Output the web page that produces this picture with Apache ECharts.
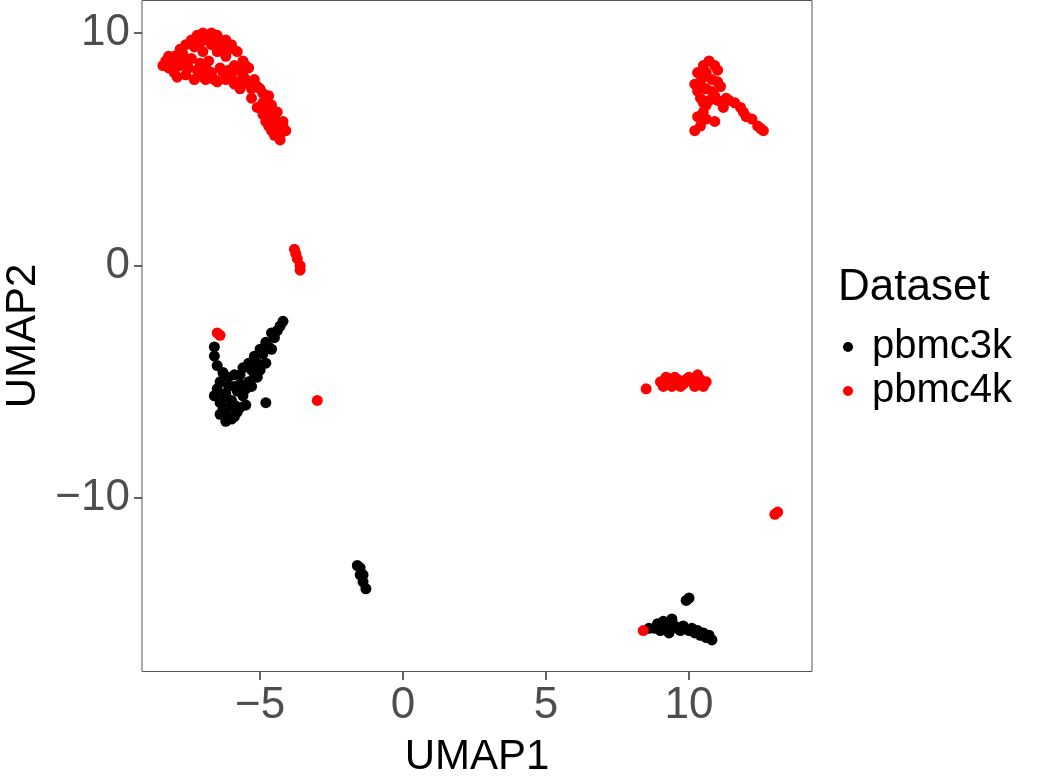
<!DOCTYPE html>
<html><head><meta charset="utf-8">
<script src="https://cdn.jsdelivr.net/npm/echarts@6/dist/echarts.min.js"></script>
<style>html,body{margin:0;background:#fff}#c{width:1042px;height:776px}</style>
</head><body><div id="c"></div>
<script>
var xTicks = [-5, 0, 5, 10];
var yTicks = [-10, 0, 10];
var pbmc4k = [
 [-8.3,8.8],[-8.2,8.5],[-8.0,9.0],[-8.0,8.3],[-7.8,9.3],[-7.8,8.6],[-7.6,9.5],[-7.6,8.2],[-7.4,9.7],[-7.4,8.9],[-7.2,9.9],[-7.2,8.4],[-7.0,10.0],[-7.0,9.2],[-7.0,8.1],[-6.8,9.9],[-6.8,8.8],[-6.6,9.8],[-6.6,8.0],[-6.4,9.6],[-6.4,8.5],[-6.2,9.7],[-6.2,9.0],[-6.2,8.0],[-6.0,9.5],[-6.0,8.2],[-5.8,9.2],[-5.8,7.9],[-5.6,8.8],[-5.6,8.2],[-5.4,8.5],[-5.4,7.8],[-5.2,8.0],[-5.0,7.6],[-4.9,7.0],[-4.7,7.3],[-4.6,6.5],[-4.8,6.2],[-4.4,6.6],[-4.4,6.0],[-4.2,6.2],[-4.3,5.6],[-4.1,5.8],[-4.6,5.8],[-6.5,9.2],[-7.6,8.8],[-6.9,8.5],[-5.7,7.6],[-5.3,7.2],[-5.1,6.8],
 [-8.1,8.7],[-7.9,8.9],[-7.3,9.4],[-6.7,9.5],[-6.3,8.3],[-5.9,8.6],[-5.5,8.0],[-4.5,6.3],[-4.3,5.4],
 [-8.4,8.6],[-8.2,9.0],[-7.9,8.1],[-7.7,9.1],[-7.5,8.5],[-7.3,8.0],[-7.1,9.6],[-7.1,8.7],[-6.9,9.7],[-6.9,8.0],[-6.7,10.0],[-6.7,8.3],[-6.5,9.9],[-6.5,7.9],[-6.3,9.3],[-6.1,9.3],[-6.1,8.4],[-5.9,7.8],[-5.7,8.4],[-5.5,8.6],[-5.3,7.6],[-5.1,7.7],[-4.9,7.4],[-4.8,6.8],[-4.6,6.9],[-4.5,5.6],[-4.2,6.0],[-4.7,6.0],[-4.9,6.5],
 [10.2,7.8],[10.3,8.3],[10.4,7.2],[10.5,8.6],[10.6,7.6],[10.7,8.8],[10.8,8.0],[10.9,7.3],[10.5,6.6],[10.4,6.0],[10.2,5.8],[11.0,8.4],[11.1,7.7],[10.6,6.9],[11.3,7.2],[11.6,7.0],[11.9,6.6],[12.2,6.3],[12.5,5.9],[11.2,6.8],[10.9,6.2],[10.4,7.9],[10.7,7.1],
 [10.3,7.5],[10.5,8.1],[10.6,8.3],[10.8,7.5],[10.9,8.6],[11.0,7.1],[10.6,6.3],[10.3,6.4],[11.4,7.1],[11.8,6.8],[12.0,6.4],[12.4,6.0],[12.6,5.8],[11.0,7.9],[10.5,7.0],
 [-3.8,0.7],[-3.7,0.3],[-3.6,0.0],[-3.6,-0.2],[-3.75,0.5],
 [-6.5,-2.9],[-6.4,-3.0],[-3.0,-5.8],
 [8.5,-5.3],[9.0,-5.0],[9.2,-4.8],[9.4,-5.2],[9.6,-4.9],[9.8,-5.1],[10.0,-4.8],[10.2,-5.2],[10.4,-4.9],[10.6,-5.0],[9.3,-5.0],[10.1,-5.0],[9.1,-5.2],[9.5,-4.8],[9.7,-5.2],[9.9,-4.9],[10.3,-4.7],[10.5,-5.2],
 [13.0,-10.7],[13.1,-10.6],
 [8.4,-15.7]
];
var pbmc3k = [
 [-6.6,-5.6],[-6.4,-5.0],[-6.3,-6.2],[-6.2,-5.5],[-6.1,-4.8],[-6.0,-6.6],[-6.0,-5.8],[-5.9,-5.2],[-5.8,-6.3],[-5.7,-4.7],[-5.6,-5.6],[-5.5,-6.0],[-5.4,-5.0],[-5.3,-4.5],[-5.1,-4.2],[-4.9,-3.8],[-4.7,-3.5],[-4.5,-3.1],[-4.3,-2.6],[-4.2,-2.4],[-5.2,-4.8],[-4.8,-4.2],[-6.6,-3.5],[-6.6,-3.9],[-6.5,-4.3],[-4.8,-5.9],[-6.2,-6.4],[-6.4,-5.9],[-5.8,-5.4],[-5.0,-4.5],
 [-6.5,-5.3],[-6.3,-4.6],[-6.3,-5.7],[-6.1,-6.1],[-6.1,-5.2],[-5.9,-4.7],[-5.9,-6.0],[-5.7,-5.1],[-5.7,-6.1],[-5.6,-4.4],[-5.5,-5.3],[-5.4,-4.2],[-5.2,-3.9],[-5.0,-3.6],[-4.8,-3.3],[-4.6,-2.9],[-4.4,-2.8],[-4.6,-3.6],[-5.1,-4.8],[-5.3,-5.2],[-6.2,-6.7],[-5.9,-6.5],[-6.4,-6.4],
 [-1.6,-12.9],[-1.5,-13.3],[-1.4,-13.6],[-1.3,-13.9],[-1.5,-13.0],[-1.4,-13.3],
 [8.6,-15.6],[8.9,-15.4],[9.2,-15.5],[9.4,-15.3],[9.6,-15.6],[9.8,-15.5],[10.0,-15.7],[10.2,-15.8],[10.4,-15.9],[10.6,-16.0],[10.8,-16.1],[9.0,-15.7],[9.3,-15.8],[10.0,-14.3],[9.9,-14.4],
 [8.8,-15.6],[9.1,-15.3],[9.5,-15.5],[9.7,-15.7],[9.4,-15.2],[10.1,-15.6],[10.3,-15.7],[10.5,-15.8],[10.7,-15.9]
];

var chart = echarts.init(document.getElementById('c'));
var fam = 'Liberation Sans';
var lbl = {fontSize:44, color:'#4d4d4d', fontFamily:fam, margin:12,
  formatter:function(v){return String(v).replace('-','\u2212');}};
var tick = {show:true, inside:false, length:8, lineStyle:{color:'#333', width:1.5}};
chart.setOption({
  animation:false,
  grid:{left:142, right:230, top:0, bottom:104, outerBoundsMode:'none', containLabel:false},
  legend:{
    orient:'vertical', left:838, top:322, itemWidth:10, itemHeight:10, itemGap:4,
    textStyle:{fontSize:40, fontFamily:fam, color:'#000', padding:[0,0,0,14]},
    data:[{name:'pbmc3k',icon:'circle'},{name:'pbmc4k',icon:'circle'}]
  },
  xAxis:{
    type:'value', min:-9.13, max:14.3, name:'UMAP1', nameLocation:'middle', nameGap:64,
    nameTextStyle:{fontSize:42, fontFamily:fam, color:'#000'},
    axisLine:{show:true, onZero:false, lineStyle:{color:'rgba(0,0,0,0)'}}, splitLine:{show:false},
    axisTick:Object.assign({customValues:xTicks}, tick),
    axisLabel:Object.assign({customValues:xTicks}, lbl)
  },
  yAxis:{
    type:'value', min:-17.48, max:11.42, name:'UMAP2', nameLocation:'middle', nameGap:96,
    nameTextStyle:{fontSize:42, fontFamily:fam, color:'#000'},
    axisLine:{show:true, onZero:false, lineStyle:{color:'rgba(0,0,0,0)'}}, splitLine:{show:false},
    axisTick:Object.assign({customValues:yTicks}, tick),
    axisLabel:Object.assign({customValues:yTicks}, lbl)
  },
  series:[
    {name:'pbmc3k', type:'scatter', data:pbmc3k, symbolSize:11, itemStyle:{color:'#000', opacity:1}},
    {name:'pbmc4k', type:'scatter', data:pbmc4k, symbolSize:11, itemStyle:{color:'#ff0000', opacity:1}}
  ]
});
var p0 = chart.convertToPixel('grid',[-9.13,11.42]), p1 = chart.convertToPixel('grid',[14.3,-17.48]);
chart.setOption({graphic:[
  {type:'text', left:838, top:266, style:{text:'Dataset', fontSize:44, fontFamily:fam, fill:'#000'}},
  {type:'rect', shape:{x:p0[0], y:p0[1]+0.5, width:p1[0]-p0[0], height:p1[1]-p0[1]-1}, style:{fill:'none', stroke:'#555', lineWidth:1}, silent:true}]});
</script></body></html>
